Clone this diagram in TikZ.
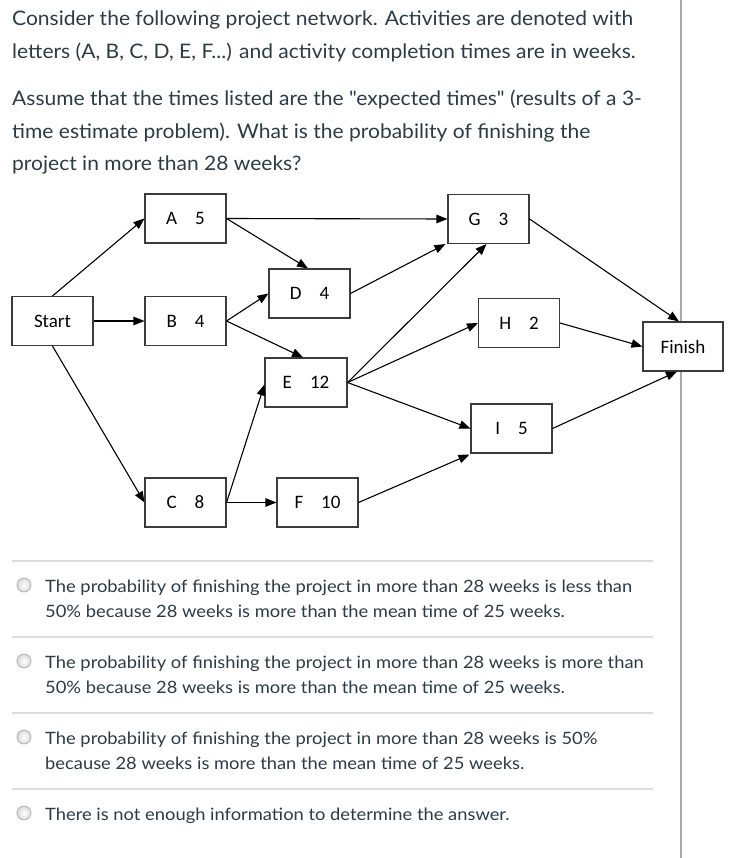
\documentclass[tikz,border=0pt]{standalone}
\usepackage{fontspec}
\usepackage{graphicx}
\usetikzlibrary{arrows.meta,calc}
\newfontfamily\lato{Lato}
\newfontfamily\carlito{Carlito}
\definecolor{txt}{HTML}{2D3B45}
\definecolor{sep}{HTML}{DDDDDD}
\definecolor{vline}{HTML}{A8A8A8}
\definecolor{boxline}{HTML}{3C3C3C}
\newlength\qw
\newlength\ow
\newcommand\qfont{\lato\fontsize{20}{24}\selectfont}
\newcommand\ofont{\lato\fontsize{17}{20}\selectfont}
\newsavebox\measbox
\AtBeginDocument{%
  \sbox\measbox{\qfont Consider the following project network. Activities are denoted with}%
  \global\qw=\wd\measbox
  \pgfmathsetmacro\qsx{621/\the\qw}%
  \xdef\qsx{\qsx}%
  \sbox\measbox{\ofont The probability of finishing the project in more than 28 weeks is less than}%
  \global\ow=\wd\measbox
  \pgfmathsetmacro\osx{587/\the\ow}%
  \xdef\osx{\osx}%
}
\tikzset{
  actbox/.style={draw=boxline, fill=white, line width=1.1pt, minimum width=81pt, minimum height=49pt, inner sep=0pt, font=\carlito\fontsize{19}{22}\selectfont},
  conn/.style={line width=1.1pt, -{Triangle[length=11pt,width=8.5pt]}},
  qline/.style={anchor=base west, inner sep=0pt, text=txt, font=\qfont},
  oline/.style={anchor=base west, inner sep=0pt, text=txt, font=\ofont},
  radio/.style={circle, draw=gray!60, line width=0.8pt, inner color=white, outer color=gray!30, minimum size=14pt, inner sep=0pt},
  sepline/.style={draw=sep, line width=2pt},
}
\newcommand\act[2]{#1\hspace{18pt}#2}
\begin{document}
\begin{tikzpicture}[x=1pt,y=-1pt]
\useasboundingbox[fill=white] (0,0) rectangle (746,858);
% vertical rule
\draw[draw=vline, line width=2pt] (681,0) coordinate (vt) -- (681,858) coordinate (vb);
% question text
\node[qline] (q1) at (12,26) {\scalebox{\qsx}[1]{Consider the following project network. Activities are denoted with}};
\node[qline] (q2) at (12,58.5) {\scalebox{\qsx}[1]{letters (A, B, C, D, E, F...) and activity completion times are in weeks.}};
\node[qline] (q3) at (12,106) {\scalebox{\qsx}[1]{Assume that the times listed are the "expected times" (results of a 3-}};
\node[qline] (q4) at (12,138.5) {\scalebox{\qsx}[1]{time estimate problem). What is the probability of finishing the}};
\node[qline] (q5) at (12,171) {\scalebox{\qsx}[1]{project in more than 28 weeks?}};
% network
\node[actbox] (Start) at (52.5,321) {Start};
\node[actbox] (A) at (185.5,218.5) {\act{A}{5}};
\node[actbox] (B) at (185.5,321) {\act{B}{4}};
\node[actbox] (C) at (185.5,502.5) {\act{C}{8}};
\node[actbox] (D) at (309.5,293.5) {\act{D}{4}};
\node[actbox, minimum width=82pt] (E) at (306,382.5) {\act{E}{12}};
\node[actbox] (F) at (317.5,502.5) {\act{F}{10}};
\node[actbox] (G) at (488.5,219) {\act{G}{3}};
\node[actbox] (H) at (519,323) {\act{H}{2}};
\node[actbox] (I) at (511.5,428.5) {\act{I}{5}};
\node[actbox, minimum width=80pt] (Finish) at (683,346.5) {Finish};
\draw[conn] (Start.north) -- (A.west);
\draw[conn] (Start.east) -- (B.west);
\draw[conn] (Start.south) -- (C.west);
\draw[conn] (A.east) -- (G.west);
\draw[conn] (A.east) -- ($(D.north)+(-1.5,0)$);
\draw[conn] (B.east) -- (D.west);
\draw[conn] (B.east) -- ($(E.north)+(-3,0)$);
\draw[conn] (C.east) -- ($(E.west)+(0,2)$);
\draw[conn] (C.east) -- (F.west);
\draw[conn] (D.east) -- ($(G.south west)+(-2,0)$);
\draw[conn] (E.east) -- ($(G.south)+(-2,0)$);
\draw[conn] (E.east) -- (H.west);
\draw[conn] (E.east) -- (I.west);
\draw[conn] (F.east) -- ($(I.south west)+(-1,1)$);
\draw[conn] (G.east) -- ($(Finish.north)+(-4,0)$);
\draw[conn] (H.east) -- (Finish.west);
\draw[conn] (I.east) -- ($(Finish.south)+(-6,0)$);
% options
\draw[sepline] (12,561) coordinate (s1a) -- (653,561) coordinate (s1b);
\draw[sepline] (12,637) coordinate (s2a) -- (653,637) coordinate (s2b);
\draw[sepline] (12,713) coordinate (s3a) -- (653,713) coordinate (s3b);
\draw[sepline] (12,789) coordinate (s4a) -- (653,789) coordinate (s4b);
\node[radio] (r1) at (24,585) {};
\node[radio] (r2) at (24,661) {};
\node[radio] (r3) at (24,737) {};
\node[radio] (r4) at (24,813) {};
\node[oline] (o1a) at (45,592) {\scalebox{\osx}[1]{The probability of finishing the project in more than 28 weeks is less than}};
\node[oline] (o1b) at (45,617) {\scalebox{\osx}[1]{50\% because 28 weeks is more than the mean time of 25 weeks.}};
\node[oline] (o2a) at (45,668) {\scalebox{\osx}[1]{The probability of finishing the project in more than 28 weeks is more than}};
\node[oline] (o2b) at (45,693) {\scalebox{\osx}[1]{50\% because 28 weeks is more than the mean time of 25 weeks.}};
\node[oline] (o3a) at (45,744) {\scalebox{\osx}[1]{The probability of finishing the project in more than 28 weeks is 50\%}};
\node[oline] (o3b) at (45,769) {\scalebox{\osx}[1]{because 28 weeks is more than the mean time of 25 weeks.}};
\node[oline] (o4a) at (45,820) {\scalebox{\osx}[1]{There is not enough information to determine the answer.}};
\end{tikzpicture}
\end{document}
